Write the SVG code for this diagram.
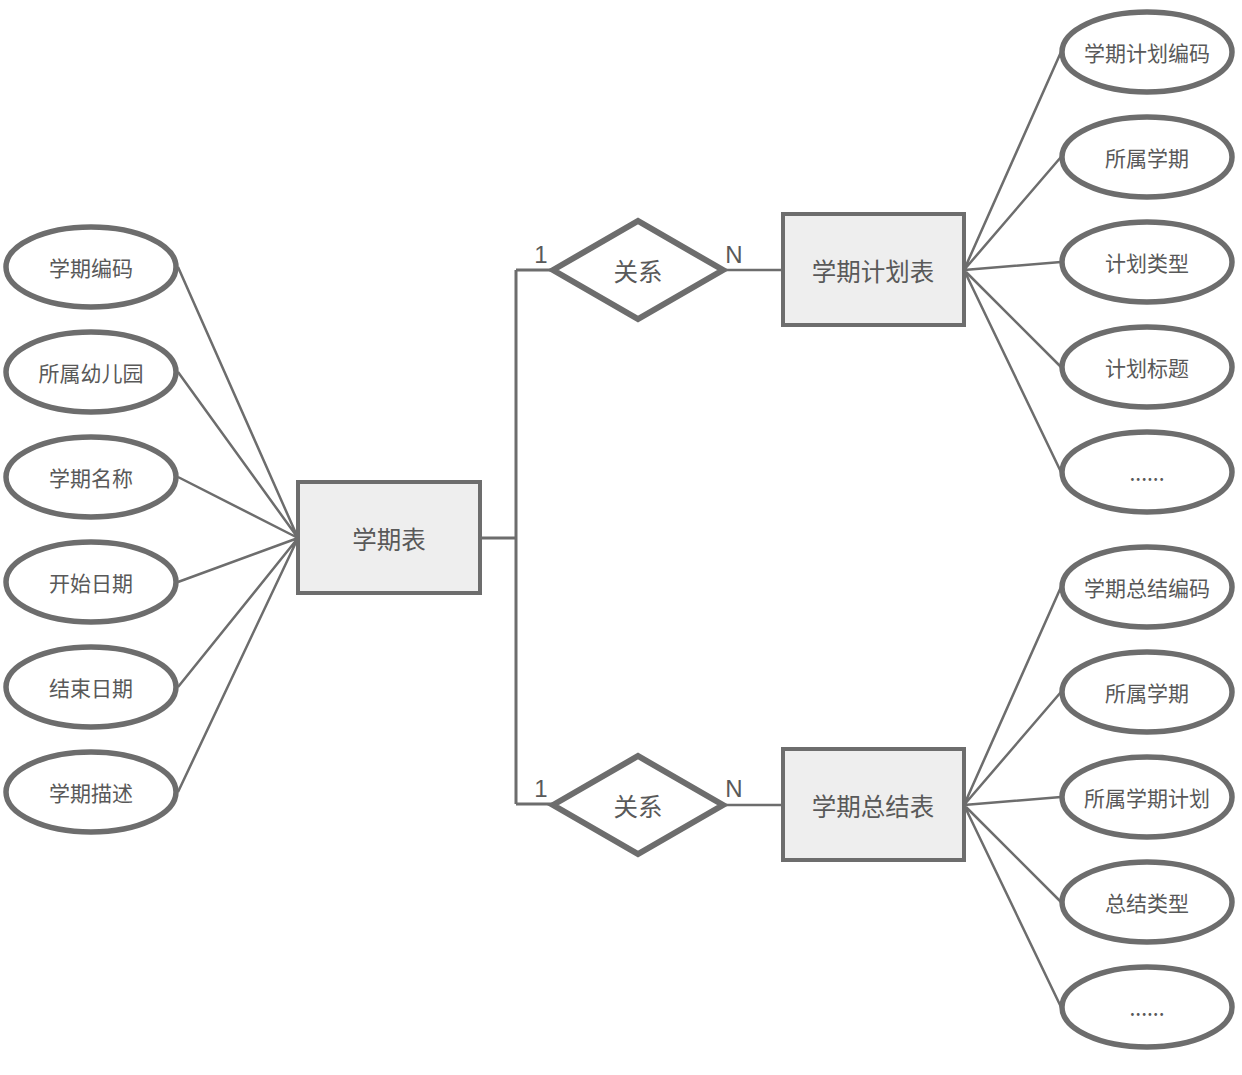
<svg xmlns="http://www.w3.org/2000/svg" width="1242" height="1075" viewBox="0 0 1242 1075">
<style>
.attr{fill:#ffffff;stroke:#6d6d6d;stroke-width:5.5}
.ent{fill:#eeeeee;stroke:#6d6d6d;stroke-width:4}
.rel{fill:#ffffff;stroke:#6d6d6d;stroke-width:6;stroke-linejoin:miter}
.ln{fill:none;stroke:#6d6d6d;stroke-width:2.5}
text{font-family:"Noto Sans CJK SC","Liberation Sans",sans-serif;fill:#595959;text-anchor:middle;dominant-baseline:central}
.t20{font-size:21px}
.t24{font-size:24.5px}
.card{font-family:"Liberation Sans",sans-serif;font-size:24px}
</style>
<rect width="1242" height="1075" fill="#ffffff"/>
<g id="connectors">
<path class="ln" d="M178,267 L298,538 M178,372 L298,538 M178,477 L298,538 M178,582 L298,538 M178,687 L298,538 M178,792 L298,538"/>
<path class="ln" d="M480,538 L516,538 M516,270 L516,804 M516,270 L553,270 M516,804 L553,804" style="stroke-width:3"/>
<path class="ln" d="M723,270 L783,270 M723,805 L783,805"/>
<path class="ln" d="M964,270 L1061,52 M964,270 L1061,157 M964,270 L1061,262 M964,270 L1061,367 M964,270 L1061,472"/>
<path class="ln" d="M964,805 L1061,587 M964,805 L1061,692 M964,805 L1061,797 M964,805 L1061,902 M964,805 L1061,1007"/>
<text class="card" x="541" y="254">1</text>
<text class="card" x="734" y="254">N</text>
<text class="card" x="541" y="788">1</text>
<text class="card" x="734" y="788">N</text>
</g>
<g id="a1"><ellipse class="attr" cx="91" cy="267" rx="85" ry="40"/><text class="t20" x="91" y="267">学期编码</text></g>
<g id="a2"><ellipse class="attr" cx="91" cy="372" rx="85" ry="40"/><text class="t20" x="91" y="372">所属幼儿园</text></g>
<g id="a3"><ellipse class="attr" cx="91" cy="477" rx="85" ry="40"/><text class="t20" x="91" y="477">学期名称</text></g>
<g id="a4"><ellipse class="attr" cx="91" cy="582" rx="85" ry="40"/><text class="t20" x="91" y="582">开始日期</text></g>
<g id="a5"><ellipse class="attr" cx="91" cy="687" rx="85" ry="40"/><text class="t20" x="91" y="687">结束日期</text></g>
<g id="a6"><ellipse class="attr" cx="91" cy="792" rx="85" ry="40"/><text class="t20" x="91" y="792">学期描述</text></g>
<g id="e_term"><rect class="ent" x="298" y="482" width="182" height="111"/><text class="t24" x="389" y="538">学期表</text></g>
<g id="r1"><polygon class="rel" points="553,270 638,221 723,270 638,319"/><text class="t24" x="638" y="270">关系</text></g>
<g id="r2"><polygon class="rel" points="553,805 638,756 723,805 638,854"/><text class="t24" x="638" y="805">关系</text></g>
<g id="e_plan"><rect class="ent" x="783" y="214" width="181" height="111"/><text class="t24" x="873" y="270">学期计划表</text></g>
<g id="e_sum"><rect class="ent" x="783" y="749" width="181" height="111"/><text class="t24" x="873" y="805">学期总结表</text></g>
<g id="p1"><ellipse class="attr" cx="1147" cy="52" rx="85" ry="40"/><text class="t20" x="1147" y="52">学期计划编码</text></g>
<g id="p2"><ellipse class="attr" cx="1147" cy="157" rx="85" ry="40"/><text class="t20" x="1147" y="157">所属学期</text></g>
<g id="p3"><ellipse class="attr" cx="1147" cy="262" rx="85" ry="40"/><text class="t20" x="1147" y="262">计划类型</text></g>
<g id="p4"><ellipse class="attr" cx="1147" cy="367" rx="85" ry="40"/><text class="t20" x="1147" y="367">计划标题</text></g>
<g id="p5"><ellipse class="attr" cx="1147" cy="472" rx="85" ry="40"/><text class="t20" x="1147" y="472">......</text></g>
<g id="s1"><ellipse class="attr" cx="1147" cy="587" rx="85" ry="40"/><text class="t20" x="1147" y="587">学期总结编码</text></g>
<g id="s2"><ellipse class="attr" cx="1147" cy="692" rx="85" ry="40"/><text class="t20" x="1147" y="692">所属学期</text></g>
<g id="s3"><ellipse class="attr" cx="1147" cy="797" rx="85" ry="40"/><text class="t20" x="1147" y="797">所属学期计划</text></g>
<g id="s4"><ellipse class="attr" cx="1147" cy="902" rx="85" ry="40"/><text class="t20" x="1147" y="902">总结类型</text></g>
<g id="s5"><ellipse class="attr" cx="1147" cy="1007" rx="85" ry="40"/><text class="t20" x="1147" y="1007">......</text></g>
</svg>
